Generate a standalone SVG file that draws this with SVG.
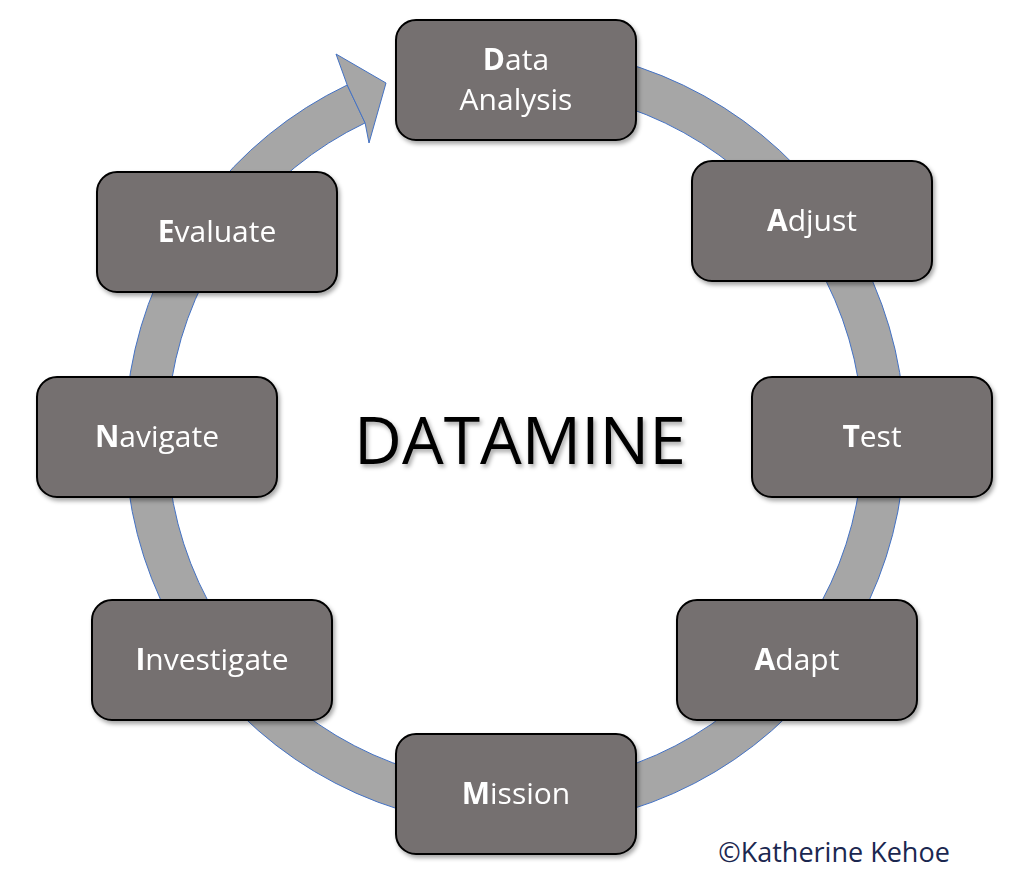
<svg xmlns="http://www.w3.org/2000/svg" width="1012" height="884" viewBox="0 0 1012 884">
<style>
.box{fill:#757070;stroke:#000;stroke-width:2}
.t{fill:#fff;font-family:"Open Sans","Liberation Sans",sans-serif;font-size:30px;text-anchor:middle}
.ring{fill:#a6a6a6;stroke:#4472c4;stroke-width:1}
</style>
<defs>
<filter id="sh" x="-10%" y="-10%" width="130%" height="130%"><feDropShadow dx="2" dy="3" stdDeviation="2" flood-color="#000" flood-opacity="0.35"/></filter>
</defs>
<rect width="1012" height="884" fill="#fff"/>
<g id="connectors">
<path class="ring" d="M548.8 48.5 A390 390 0 1 1 347.2 85 L365.1 122.9 A348 348 0 1 0 545.3 90.3 Z"/>
<polygon class="ring" points="347.2,85 336,54 386,83 369,143 365.1,122.9"/>
</g>
<g id="n1" filter="url(#sh)"><rect class="box" x="396" y="20" width="240" height="120" rx="20"/><text class="t" x="516" y="70"><tspan font-weight="bold">D</tspan>ata</text><text class="t" x="516" y="110">Analysis</text></g>
<g id="n2" filter="url(#sh)"><rect class="box" x="692" y="161" width="240" height="120" rx="20"/><text class="t" x="812" y="231"><tspan font-weight="bold">A</tspan>djust</text></g>
<g id="n3" filter="url(#sh)"><rect class="box" x="752" y="377" width="240" height="120" rx="20"/><text class="t" x="872" y="447"><tspan font-weight="bold">T</tspan>est</text></g>
<g id="n4" filter="url(#sh)"><rect class="box" x="677" y="600" width="240" height="120" rx="20"/><text class="t" x="797" y="670"><tspan font-weight="bold">A</tspan>dapt</text></g>
<g id="n5" filter="url(#sh)"><rect class="box" x="396" y="734" width="240" height="120" rx="20"/><text class="t" x="516" y="804"><tspan font-weight="bold">M</tspan>ission</text></g>
<g id="n6" filter="url(#sh)"><rect class="box" x="92" y="600" width="240" height="120" rx="20"/><text class="t" x="212" y="670"><tspan font-weight="bold">I</tspan>nvestigate</text></g>
<g id="n7" filter="url(#sh)"><rect class="box" x="37" y="377" width="240" height="120" rx="20"/><text class="t" x="157" y="447"><tspan font-weight="bold">N</tspan>avigate</text></g>
<g id="n8" filter="url(#sh)"><rect class="box" x="97" y="172" width="240" height="120" rx="20"/><text class="t" x="217" y="242"><tspan font-weight="bold">E</tspan>valuate</text></g>
<text x="520" y="464" font-family="Open Sans,Liberation Sans,sans-serif" font-size="66" text-anchor="middle" fill="#000" filter="url(#sh)">DATAMINE</text>
<text x="834" y="862" font-family="Open Sans,Liberation Sans,sans-serif" font-size="27" text-anchor="middle" fill="#1b2750">©Katherine Kehoe</text>
</svg>
